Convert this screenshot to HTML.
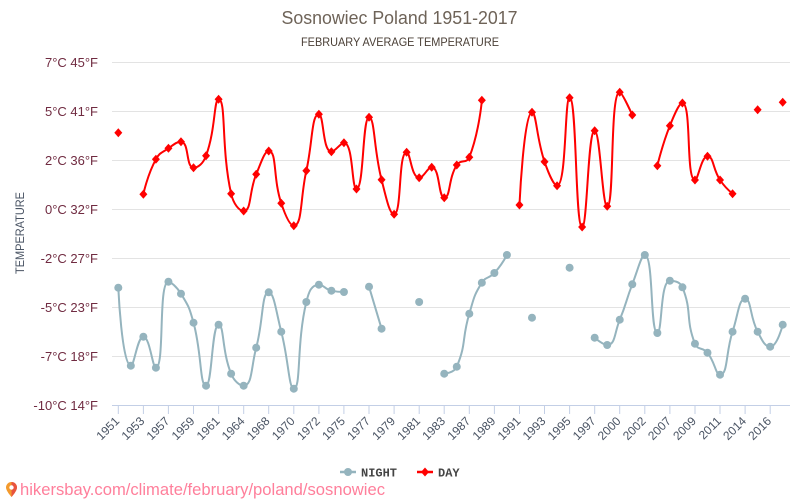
<!DOCTYPE html>
<html><head><meta charset="utf-8">
<style>
html,body{margin:0;padding:0;background:#fff;}
svg{display:block;}
</style></head>
<body>
<svg id="c" width="800" height="500" viewBox="0 0 800 500" xmlns="http://www.w3.org/2000/svg">
<rect width="800" height="500" fill="#fff"/>
<text x="399.5" y="24" text-anchor="middle" font-family="Liberation Sans, sans-serif" font-size="18" fill="#6e6358" textLength="236" lengthAdjust="spacingAndGlyphs">Sosnowiec Poland 1951-2017</text>
<text x="400" y="46" text-anchor="middle" font-family="Liberation Sans, sans-serif" font-size="12" fill="#4a3f36" textLength="198" lengthAdjust="spacingAndGlyphs">FEBRUARY AVERAGE TEMPERATURE</text>
<g stroke="#e3e3e3" stroke-width="1">
<line x1="112" y1="62.5" x2="790" y2="62.5"/>
<line x1="112" y1="111.5" x2="790" y2="111.5"/>
<line x1="112" y1="160.5" x2="790" y2="160.5"/>
<line x1="112" y1="209.5" x2="790" y2="209.5"/>
<line x1="112" y1="258.5" x2="790" y2="258.5"/>
<line x1="112" y1="307.5" x2="790" y2="307.5"/>
<line x1="112" y1="356.5" x2="790" y2="356.5"/>
</g>
<line x1="112" y1="405.5" x2="790" y2="405.5" stroke="#c3cfe6" stroke-width="1"/>
<g font-family="Liberation Sans, sans-serif" font-size="13" fill="#702b41" text-anchor="end">
<text x="98" y="67">7°C 45°F</text>
<text x="98" y="116">5°C 41°F</text>
<text x="98" y="165">2°C 36°F</text>
<text x="98" y="214">0°C 32°F</text>
<text x="98" y="263">-2°C 27°F</text>
<text x="98" y="312">-5°C 23°F</text>
<text x="98" y="361">-7°C 18°F</text>
<text x="98" y="410">-10°C 14°F</text>
</g>
<text transform="translate(24,233) rotate(-90)" text-anchor="middle" font-family="Liberation Sans, sans-serif" font-size="12" fill="#4a5464" textLength="82" lengthAdjust="spacingAndGlyphs">TEMPERATURE</text>
<g id="ticks" stroke="#c3cfe6" stroke-width="1"></g>
<g font-family="Liberation Sans, sans-serif" font-size="12" fill="#4a5464" text-anchor="end">
<text transform="translate(117.3,419) rotate(-45)" dominant-baseline="central">1951</text>
<text transform="translate(142.4,419) rotate(-45)" dominant-baseline="central">1953</text>
<text transform="translate(167.4,419) rotate(-45)" dominant-baseline="central">1957</text>
<text transform="translate(192.5,419) rotate(-45)" dominant-baseline="central">1959</text>
<text transform="translate(217.6,419) rotate(-45)" dominant-baseline="central">1961</text>
<text transform="translate(242.7,419) rotate(-45)" dominant-baseline="central">1964</text>
<text transform="translate(267.7,419) rotate(-45)" dominant-baseline="central">1968</text>
<text transform="translate(292.8,419) rotate(-45)" dominant-baseline="central">1970</text>
<text transform="translate(317.9,419) rotate(-45)" dominant-baseline="central">1972</text>
<text transform="translate(343.0,419) rotate(-45)" dominant-baseline="central">1975</text>
<text transform="translate(368.0,419) rotate(-45)" dominant-baseline="central">1977</text>
<text transform="translate(393.1,419) rotate(-45)" dominant-baseline="central">1979</text>
<text transform="translate(418.2,419) rotate(-45)" dominant-baseline="central">1981</text>
<text transform="translate(443.2,419) rotate(-45)" dominant-baseline="central">1983</text>
<text transform="translate(468.3,419) rotate(-45)" dominant-baseline="central">1987</text>
<text transform="translate(493.4,419) rotate(-45)" dominant-baseline="central">1989</text>
<text transform="translate(518.5,419) rotate(-45)" dominant-baseline="central">1991</text>
<text transform="translate(543.5,419) rotate(-45)" dominant-baseline="central">1993</text>
<text transform="translate(568.6,419) rotate(-45)" dominant-baseline="central">1995</text>
<text transform="translate(593.7,419) rotate(-45)" dominant-baseline="central">1997</text>
<text transform="translate(618.7,419) rotate(-45)" dominant-baseline="central">2000</text>
<text transform="translate(643.8,419) rotate(-45)" dominant-baseline="central">2002</text>
<text transform="translate(668.9,419) rotate(-45)" dominant-baseline="central">2007</text>
<text transform="translate(694.0,419) rotate(-45)" dominant-baseline="central">2009</text>
<text transform="translate(719.0,419) rotate(-45)" dominant-baseline="central">2011</text>
<text transform="translate(744.1,419) rotate(-45)" dominant-baseline="central">2014</text>
<text transform="translate(769.2,419) rotate(-45)" dominant-baseline="central">2016</text>
</g>
<g id="series"></g>
<!-- legend -->
<line x1="340" y1="472" x2="356" y2="472" stroke="#95b4be" stroke-width="2.5"/>
<circle cx="348" cy="472" r="4" fill="#95b4be"/>
<text x="361" y="476.5" font-family="Liberation Mono, monospace" font-weight="bold" font-size="12" fill="#444">NIGHT</text>
<line x1="417" y1="472" x2="433" y2="472" stroke="#ff0000" stroke-width="2.5"/>
<path d="M425,467.5 L429,472 L425,476.5 L421,472 Z" fill="#ff0000"/>
<text x="438" y="476.5" font-family="Liberation Mono, monospace" font-weight="bold" font-size="12" fill="#444">DAY</text>
<!-- watermark -->
<path d="M11.5,482 a5.5,5.5 0 0 1 5.5,5.5 c0,3.5 -5.5,9.5 -5.5,9.5 c0,0 -5.5,-6 -5.5,-9.5 a5.5,5.5 0 0 1 5.5,-5.5z" fill="#f39a2d"/>
<path d="M11.5,482 a5.5,5.5 0 0 1 5.5,5.5 c0,3.5 -5.5,9.5 -5.5,9.5z" fill="#e8543f"/>
<circle cx="11.5" cy="487.5" r="2.2" fill="#fff"/>
<text x="20" y="495" font-family="Liberation Sans, sans-serif" font-size="17" fill="#ff7f9b" textLength="365" lengthAdjust="spacingAndGlyphs">hikersbay.com/climate/february/poland/sosnowiec</text>
</svg>
<script>
(function(){
var NS="http://www.w3.org/2000/svg";
var x0=118.3, step=12.536;
var day=[132.7,null,194.3,159.3,148.3,141.7,167.7,155.7,99.3,193.7,211,174.3,151,203.3,225.7,170.7,114.3,151.7,142.7,189,117.3,179.7,214.3,152.3,177.7,167.3,197.7,165,157.3,100.3,null,null,205,112.3,161.7,185.7,97.7,227,130.7,206.3,92.3,115,null,165.7,125.7,103,180,156.3,180,193.7,null,109.7,null,102.3];
var night=[287.7,365.7,336.7,367.7,281.7,293.7,322.7,385.7,324.7,373.7,385.7,347.7,292.3,331.7,388.7,302,284.7,290.7,292,null,286.7,328.7,null,null,302,null,373.7,366.7,313.7,282.7,273,255,null,317.7,null,null,267.7,null,337.7,345,319.7,284.3,255,333,280.7,287.3,343.7,352.7,374.7,331.7,298.7,331.7,346.7,324.7];
var ticks=document.getElementById('ticks');
for(var i=0;i<=52;i+=2){var l=document.createElementNS(NS,'line');var x=(x0+step*i).toFixed(1);l.setAttribute('x1',x);l.setAttribute('x2',x);l.setAttribute('y1','405');l.setAttribute('y2','414');ticks.appendChild(l);}
function segPath(pts,smooth){
 var d='',cpx0,cpy0,prevX,prevY,nextCpx0,nextCpy0;
 for(var k=0;k<pts.length;k++){
  var x=pts[k][0],y=pts[k][1];
  if(k===0){d+='M'+x.toFixed(2)+','+y.toFixed(2);cpx0=x;cpy0=y;}
  else{
   var cpx1,cpy1;
   if(k+1>=pts.length){cpx1=x;cpy1=y;}
   else{
    var nextX=pts[k+1][0],nextY=pts[k+1][1];
    var vx=nextX-prevX,vy=nextY-prevY;
    var dx0=x-prevX,dx1=nextX-x,dy0=y-prevY,dy1=nextY-y;
    var lp=Math.sqrt(dx0*dx0+dy0*dy0),ln=Math.sqrt(dx1*dx1+dy1*dy1);
    var r=ln/(ln+lp);
    nextCpx0=x+vx*smooth*r;nextCpy0=y+vy*smooth*r;
    nextCpx0=Math.min(nextCpx0,Math.max(nextX,x));nextCpy0=Math.min(nextCpy0,Math.max(nextY,y));
    nextCpx0=Math.max(nextCpx0,Math.min(nextX,x));nextCpy0=Math.max(nextCpy0,Math.min(nextY,y));
    vx=nextCpx0-x;vy=nextCpy0-y;
    cpx1=x-vx*lp/ln;cpy1=y-vy*lp/ln;
    cpx1=Math.min(cpx1,Math.max(prevX,x));cpy1=Math.min(cpy1,Math.max(prevY,y));
    cpx1=Math.max(cpx1,Math.min(prevX,x));cpy1=Math.max(cpy1,Math.min(prevY,y));
    vx=x-cpx1;vy=y-cpy1;
    nextCpx0=x+vx*ln/lp;nextCpy0=y+vy*ln/lp;
   }
   d+='C'+cpx0.toFixed(2)+','+cpy0.toFixed(2)+' '+cpx1.toFixed(2)+','+cpy1.toFixed(2)+' '+x.toFixed(2)+','+y.toFixed(2);
   cpx0=nextCpx0;cpy0=nextCpy0;
  }
  prevX=x;prevY=y;
 }
 return d;
}
var g=document.getElementById('series');
function draw(data,color,marker){
 var segs=[],cur=[];
 for(var i=0;i<data.length;i++){
  if(data[i]===null){if(cur.length)segs.push(cur);cur=[];}
  else cur.push([x0+step*i,data[i]]);
 }
 if(cur.length)segs.push(cur);
 var d='';
 segs.forEach(function(s){if(s.length>1)d+=segPath(s,0.5);});
 var p=document.createElementNS(NS,'path');
 p.setAttribute('d',d);p.setAttribute('fill','none');p.setAttribute('stroke',color);p.setAttribute('stroke-width','2');p.setAttribute('stroke-linejoin','round');
 g.appendChild(p);
 for(var i=0;i<data.length;i++){
  if(data[i]===null)continue;
  var x=x0+step*i,y=data[i];
  if(marker==='circle'){
   var c=document.createElementNS(NS,'circle');c.setAttribute('cx',x.toFixed(2));c.setAttribute('cy',y.toFixed(2));c.setAttribute('r','4');c.setAttribute('fill',color);g.appendChild(c);
  }else{
   var q=document.createElementNS(NS,'path');
   q.setAttribute('d','M'+x.toFixed(2)+','+(y-4.5).toFixed(2)+' L'+(x+4).toFixed(2)+','+y.toFixed(2)+' L'+x.toFixed(2)+','+(y+4.5).toFixed(2)+' L'+(x-4).toFixed(2)+','+y.toFixed(2)+' Z');
   q.setAttribute('fill',color);g.appendChild(q);
  }
 }
}
draw(night,'#95b4be','circle');
draw(day,'#ff0000','diamond');
})();
</script>
</body></html>
